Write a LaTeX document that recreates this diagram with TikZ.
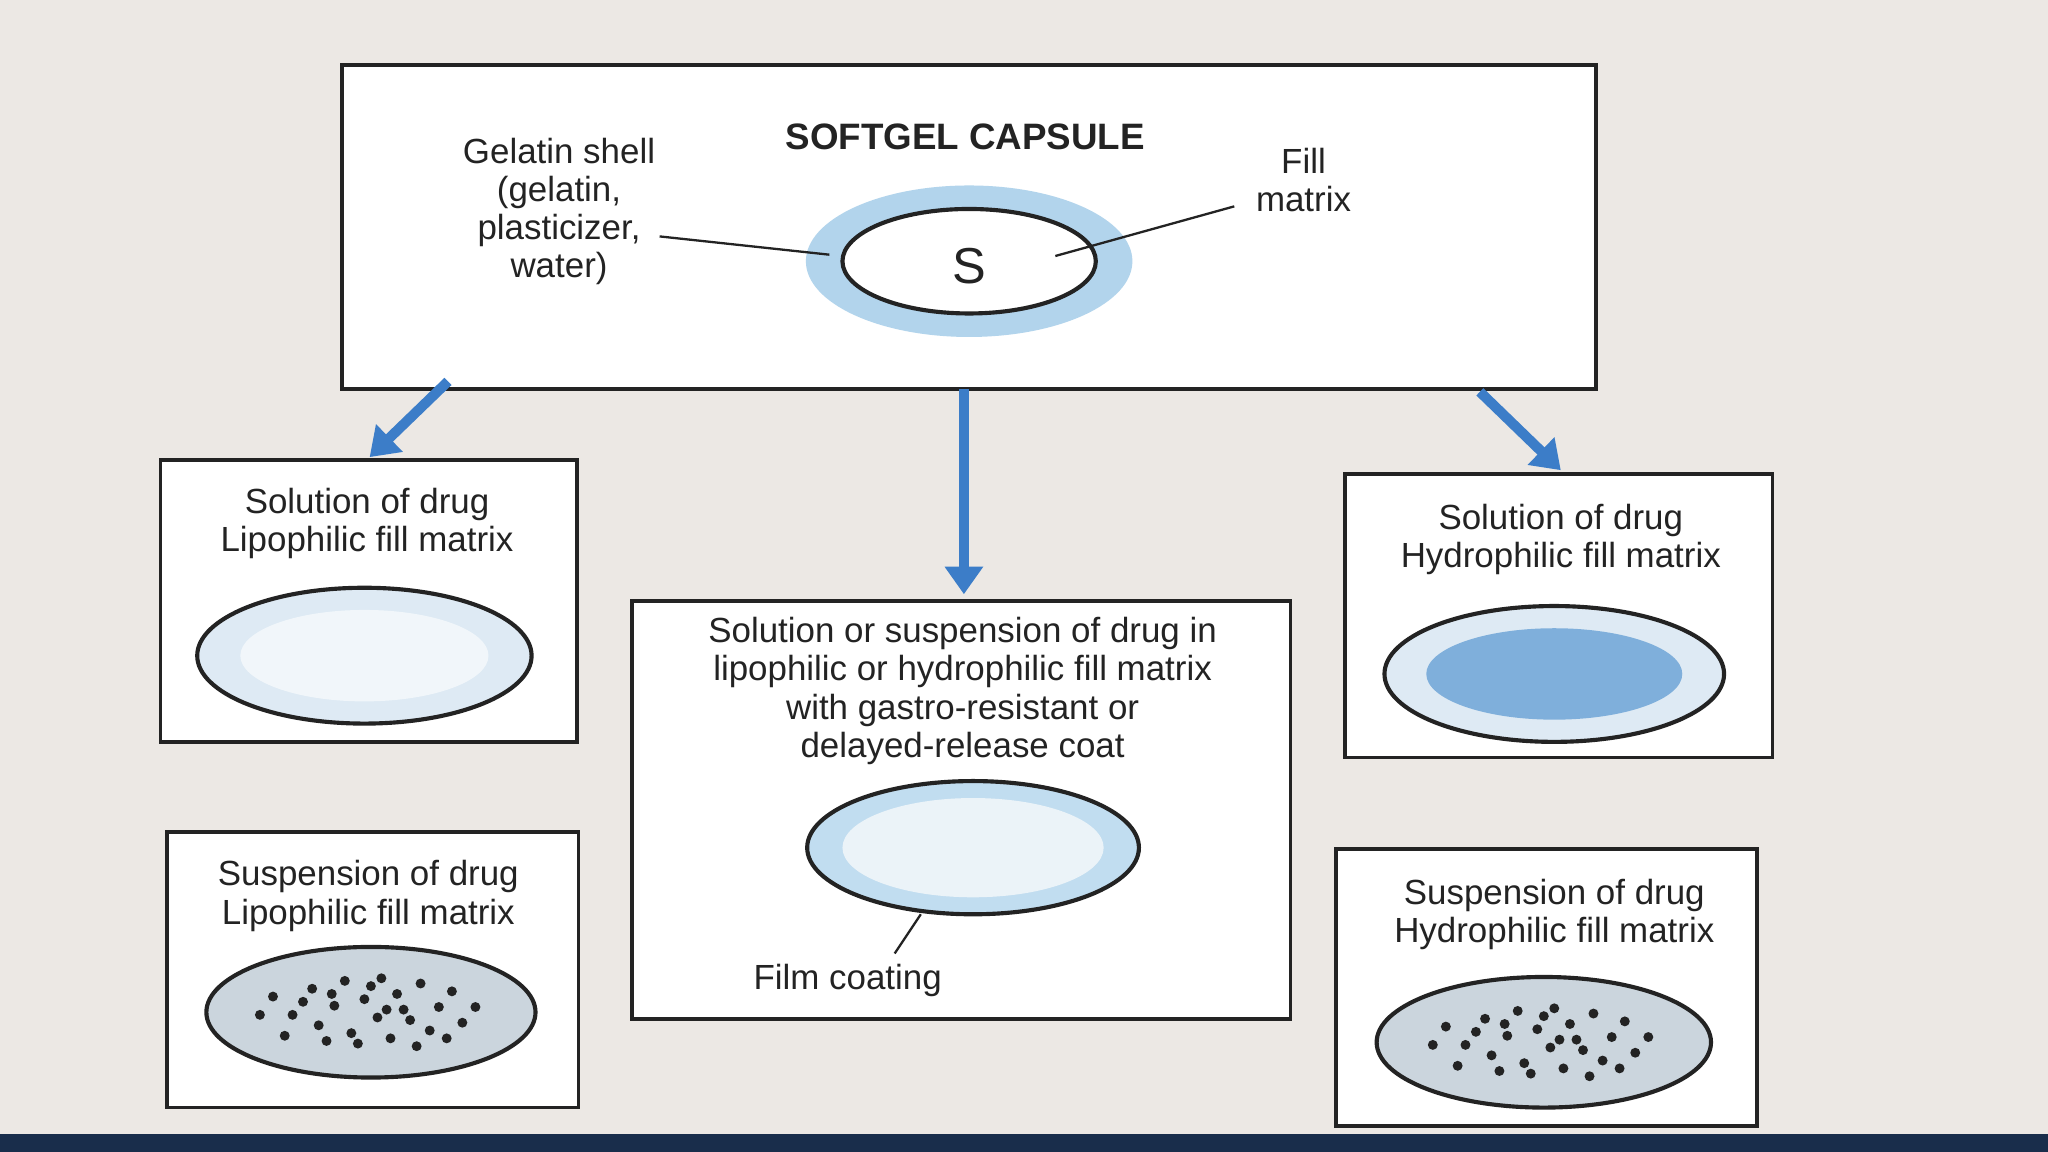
\documentclass[tikz,border=0pt]{standalone}
\usepackage{fontspec}
\setmainfont{Liberation Sans}
\usetikzlibrary{arrows.meta}
\definecolor{bg}{RGB}{236,232,228}
\definecolor{shellblue}{RGB}{178,212,236}
\definecolor{pale}{RGB}{222,234,244}
\definecolor{mid}{RGB}{150,195,228}
\definecolor{dark}{RGB}{95,155,210}
\definecolor{arrowblue}{RGB}{60,125,200}
\definecolor{bar}{RGB}{25,45,75}
\definecolor{ink}{RGB}{35,35,35}
\tikzset{
  boxed/.style={draw=ink,line width=0.8pt,fill=white},
  lbl/.style={align=center,text=ink,font=\fontsize{7.6}{8.3}\selectfont},
  arr/.style={arrowblue,line width=2.2pt,-{Triangle[length=6pt,width=8pt]}},
  lead/.style={draw=ink,line width=0.5pt},
  caps/.style={draw=ink,line width=0.9pt},
}
\newcommand{\dotcloud}[2]{%
  \foreach \dx/\dy in {-75/-12,-60/2,-45/-18,-40/10,-28/-5,-20/-24,-15/16,-5/-10,5/4,8/-26,15/20,20/-14,30/6,38/-22,45/14,52/-4,62/-16,70/8,-66/18,-52/-8,-34/22,-10/24,0/-20,25/-2,35/26,58/20,80/-4,-85/2,12/-2,-30/-14}
    \fill[ink] (#1+\dx,#2+\dy) circle (3.8);}
\begin{document}
\begin{tikzpicture}[x=0.01cm,y=-0.01cm]
\useasboundingbox (0,0) rectangle (1568,882);
\fill[bg] (0,0) rectangle (1568,882);
\fill[bar] (0,868) rectangle (1568,882);
% top box
\draw[boxed] (262,50) rectangle (1222,298);
\coordinate (topL) at (343,292); \coordinate (topM) at (738,298); \coordinate (topR) at (1133,300);
\node[lbl,font=\bfseries\fontsize{8}{9}\selectfont] (title) at (739,105) {SOFTGEL CAPSULE};
\fill[shellblue] (742,200) ellipse (125 and 58);
\draw[caps,fill=white] (742,200) ellipse (97 and 40);
\node[lbl,font=\fontsize{11}{12}\selectfont] (S) at (742,204) {S};
\node[lbl] (shell) at (428,162) {Gelatin shell\\(gelatin,\\plasticizer,\\water)};
\coordinate (shellEnd) at (635,195);
\draw[lead] (505,181) -- (shellEnd);
\node[lbl] (fill) at (998,138) {Fill\\matrix};
\coordinate (fillEnd) at (808,196);
\draw[lead] (945,158) -- (fillEnd);
% boxes
\draw[boxed] (123,352) rectangle (442,568);
\node[lbl] (l1) at (281,401) {Solution of drug\\Lipophilic fill matrix};
\draw[caps,fill=pale] (279,502) ellipse (128 and 52);
\fill[white,opacity=0.6] (279,502) ellipse (95 and 35);
\draw[boxed] (128,637) rectangle (443,848);
\node[lbl] (l2) at (282,686) {Suspension of drug\\Lipophilic fill matrix};
\draw[caps,fill=pale!80!gray] (284,775) ellipse (126 and 50);
\dotcloud{284}{775}
\draw[boxed] (484,460) rectangle (988,780);
\node[lbl] (m) at (737,529) {Solution or suspension of drug in\\lipophilic or hydrophilic fill matrix\\with gastro-resistant or\\delayed-release coat};
\draw[caps,fill=shellblue!80] (745,649) ellipse (127 and 51);
\fill[pale!60] (745,649) ellipse (100 and 38);
\node[lbl] (film) at (649,751) {Film coating};
\coordinate (filmEnd) at (705,700);
\draw[lead] (685,730) -- (filmEnd);
\draw[boxed] (1030,363) rectangle (1357,580);
\node[lbl] (r1) at (1195,413) {Solution of drug\\Hydrophilic fill matrix};
\draw[caps,fill=pale] (1190,516) ellipse (130 and 52);
\fill[dark!80] (1190,516) ellipse (98 and 35);
\draw[boxed] (1023,650) rectangle (1345,862);
\node[lbl] (r2) at (1190,700) {Suspension of drug\\Hydrophilic fill matrix};
\draw[caps,fill=pale!80!gray] (1182,798) ellipse (128 and 50);
\dotcloud{1182}{798}
% arrows
\coordinate (aL) at (283,350); \coordinate (aM) at (738,455); \coordinate (aR) at (1195,360);
\draw[arr] (topL) -- (aL);
\draw[arr] (topM) -- (aM);
\draw[arr] (topR) -- (aR);
\end{tikzpicture}
\end{document}
